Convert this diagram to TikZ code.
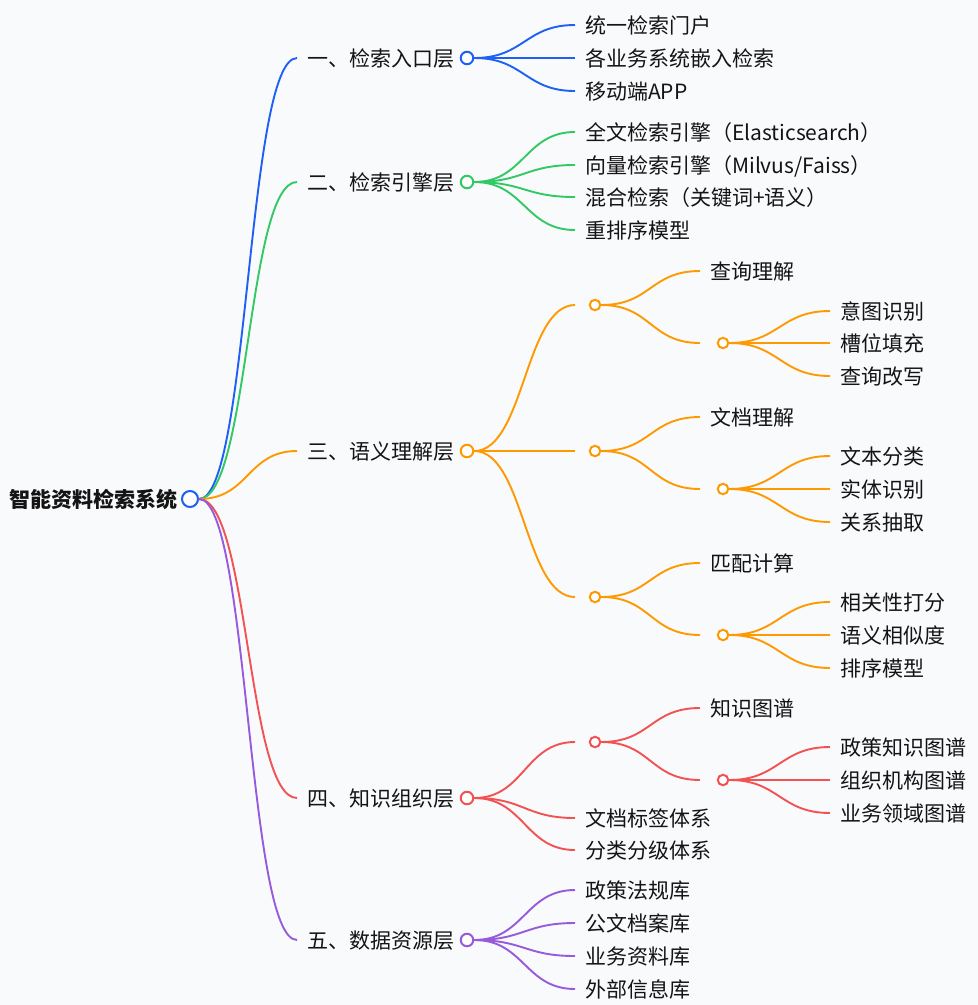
\documentclass[tikz,border=0pt]{standalone}
\usepackage{fontspec}
\setmainfont{Noto Sans CJK SC}
\definecolor{bgc}{RGB}{249,250,252}
\definecolor{cb}{RGB}{30,95,245}
\definecolor{cg}{RGB}{50,200,100}
\definecolor{co}{RGB}{255,153,0}
\definecolor{cr}{RGB}{242,82,82}
\definecolor{cp}{RGB}{150,90,220}
\begin{document}
\begin{tikzpicture}[x=1pt,y=-1pt,
  lbl/.style={anchor=west, inner xsep=10pt, inner ysep=0pt, text height=1.82em, text depth=0.12em, font=\fontsize{21}{25}\selectfont, text=black!92},
  dot/.style={circle, draw=#1, fill=white, line width=2pt, inner sep=0pt, minimum size=12.5pt},
  sdot/.style={dot=#1, minimum size=10.5pt},
  br/.style={draw=#1, line width=1.9pt, out=0, in=180, distance=50pt}]
\fill[bgc] (0,0) rectangle (978,1005);
% root
\node[lbl, anchor=east, inner xsep=0pt, font=\fontsize{21}{25}\selectfont\bfseries] (r) at (178,499) {智能资料检索系统};
\node[dot=cb, minimum size=16pt] (rc) at (190,499) {};
% level 1
\node[lbl] (a1) at (297,58) {一、检索入口层};
\node[dot=cb] (ac1) at (467,58) {};
\node[lbl] (a2) at (297,182) {二、检索引擎层};
\node[dot=cg] (ac2) at (467,182) {};
\node[lbl] (a3) at (297,451) {三、语义理解层};
\node[dot=co] (ac3) at (467,451) {};
\node[lbl] (a4) at (297,798) {四、知识组织层};
\node[dot=cr] (ac4) at (467,798) {};
\node[lbl] (a5) at (297,940) {五、数据资源层};
\node[dot=cp] (ac5) at (467,940) {};
\draw[br=cb] (rc.east) to (a1.west);
\draw[br=cg] (rc.east) to (a2.west);
\draw[br=co] (rc.east) to (a3.west);
\draw[br=cr] (rc.east) to (a4.west);
\draw[br=cp] (rc.east) to (a5.west);
% group 1
\node[lbl] (a11) at (575,25) {统一检索门户};
\node[lbl] (a12) at (575,58) {各业务系统嵌入检索};
\node[lbl] (a13) at (575,91) {移动端APP};
\foreach \n in {a11,a12,a13} \draw[br=cb] (ac1.east) to (\n.west);
% group 2
\node[lbl] (a21) at (575,132) {全文检索引擎（Elasticsearch）};
\node[lbl] (a22) at (575,165) {向量检索引擎（Milvus/Faiss）};
\node[lbl] (a23) at (575,197) {混合检索（关键词+语义）};
\node[lbl] (a24) at (575,230) {重排序模型};
\foreach \n in {a21,a22,a23,a24} \draw[br=cg] (ac2.east) to (\n.west);
% group 3
\node[lbl] (b1) at (575,305) {};
\node[sdot=co] (bc1) at (595,305) {};
\node[lbl] (b2) at (575,451) {};
\node[sdot=co] (bc2) at (595,451) {};
\node[lbl] (b3) at (575,597) {};
\node[sdot=co] (bc3) at (595,597) {};
\foreach \n in {b1,b2,b3} \draw[br=co] (ac3.east) to (\n.west);
\node[lbl] (b11) at (700,271) {查询理解};
\node[lbl] (b12) at (700,343) {};
\node[sdot=co] (bc12) at (723,343) {};
\foreach \n in {b11,b12} \draw[br=co] (bc1.east) to (\n.west);
\node[lbl] (b121) at (830,311) {意图识别};
\node[lbl] (b122) at (830,343) {槽位填充};
\node[lbl] (b123) at (830,376) {查询改写};
\foreach \n in {b121,b122,b123} \draw[br=co] (bc12.east) to (\n.west);
\node[lbl] (b21) at (700,417) {文档理解};
\node[lbl] (b22) at (700,489) {};
\node[sdot=co] (bc22) at (723,489) {};
\foreach \n in {b21,b22} \draw[br=co] (bc2.east) to (\n.west);
\node[lbl] (b221) at (830,456) {文本分类};
\node[lbl] (b222) at (830,489) {实体识别};
\node[lbl] (b223) at (830,522) {关系抽取};
\foreach \n in {b221,b222,b223} \draw[br=co] (bc22.east) to (\n.west);
\node[lbl] (b31) at (700,563) {匹配计算};
\node[lbl] (b32) at (700,635) {};
\node[sdot=co] (bc32) at (723,635) {};
\foreach \n in {b31,b32} \draw[br=co] (bc3.east) to (\n.west);
\node[lbl] (b321) at (830,602) {相关性打分};
\node[lbl] (b322) at (830,635) {语义相似度};
\node[lbl] (b323) at (830,668) {排序模型};
\foreach \n in {b321,b322,b323} \draw[br=co] (bc32.east) to (\n.west);
% group 4
\node[lbl] (d1) at (575,742) {};
\node[sdot=cr] (dc1) at (595,742) {};
\node[lbl] (d2) at (575,818) {文档标签体系};
\node[lbl] (d3) at (575,850) {分类分级体系};
\foreach \n in {d1,d2,d3} \draw[br=cr] (ac4.east) to (\n.west);
\node[lbl] (d11) at (700,708) {知识图谱};
\node[lbl] (d12) at (700,780) {};
\node[sdot=cr] (dc12) at (723,780) {};
\foreach \n in {d11,d12} \draw[br=cr] (dc1.east) to (\n.west);
\node[lbl] (d121) at (830,747) {政策知识图谱};
\node[lbl] (d122) at (830,780) {组织机构图谱};
\node[lbl] (d123) at (830,813) {业务领域图谱};
\foreach \n in {d121,d122,d123} \draw[br=cr] (dc12.east) to (\n.west);
% group 5
\node[lbl] (e1) at (575,890) {政策法规库};
\node[lbl] (e2) at (575,923) {公文档案库};
\node[lbl] (e3) at (575,956) {业务资料库};
\node[lbl] (e4) at (575,989) {外部信息库};
\foreach \n in {e1,e2,e3,e4} \draw[br=cp] (ac5.east) to (\n.west);
\end{tikzpicture}
\end{document}
